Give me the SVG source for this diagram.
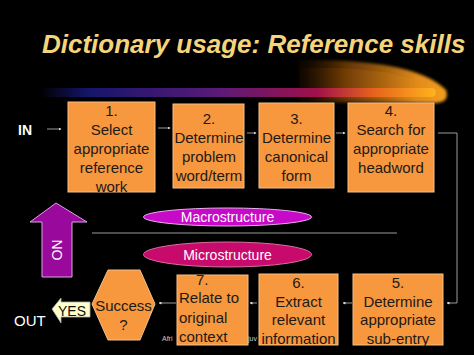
<svg xmlns="http://www.w3.org/2000/svg" width="474" height="355" viewBox="0 0 474 355">
<defs>
<linearGradient id="bar" x1="40" y1="0" x2="435" y2="0" gradientUnits="userSpaceOnUse">
<stop offset="0" stop-color="#000000"/>
<stop offset="0.12" stop-color="#15156a"/>
<stop offset="0.45" stop-color="#5a1a78"/>
<stop offset="0.7" stop-color="#a0104a"/>
<stop offset="0.85" stop-color="#e8661c"/>
<stop offset="1" stop-color="#ffb21e"/>
</linearGradient>
<linearGradient id="glow" x1="290" y1="0" x2="448" y2="0" gradientUnits="userSpaceOnUse">
<stop offset="0" stop-color="#3a1a00" stop-opacity="0"/>
<stop offset="0.35" stop-color="#8a4a08" stop-opacity="0.7"/>
<stop offset="0.8" stop-color="#e08a1a"/>
<stop offset="1" stop-color="#f5a020"/>
</linearGradient>
<filter id="blur" x="-10%" y="-30%" width="120%" height="160%"><feGaussianBlur stdDeviation="1.5"/></filter>
<marker id="ah" viewBox="0 0 6 6" refX="5" refY="3" markerWidth="3" markerHeight="3" orient="auto">
<path d="M0,0 L6,3 L0,6 Z" fill="#dddddd"/>
</marker>
<style>
.box{fill:#f7973e;stroke:#f3c08a;stroke-width:1}
.bt{font-family:"Liberation Sans",Arial,sans-serif;font-size:15px;fill:#1e1a16;text-anchor:middle}
.bl{font-family:"Liberation Sans",Arial,sans-serif;font-size:15px;fill:#1e1a16}
.conn{fill:none;stroke:#9a9a9a;stroke-width:1}
.wt{font-family:"Liberation Sans",Arial,sans-serif;fill:#ffffff}
</style>
</defs>
<rect width="474" height="355" fill="#000000"/>

<g id="title">
<path d="M295,102 L295,60 Q415,58 446,90 Q450,102 436,103 Z" fill="url(#glow)" filter="url(#blur)"/>
<path d="M300,98 L300,68 Q405,66 438,92 Q440,99 432,99 Z" fill="url(#glow)" opacity="0.6"/>
<rect x="40" y="88" width="396" height="9" rx="4.5" fill="url(#bar)"/>
<text x="42" y="53" font-family="Liberation Sans,Arial,sans-serif" font-size="26" font-weight="bold" font-style="italic" fill="#f5d47c">Dictionary usage: Reference skills</text>
</g>

<g id="connectors">
<line class="conn" x1="47" y1="129" x2="61" y2="129" marker-end="url(#ah)"/>
<line class="conn" x1="158" y1="128" x2="170" y2="128" marker-end="url(#ah)"/>
<line class="conn" x1="247" y1="133" x2="256" y2="133" marker-end="url(#ah)"/>
<line class="conn" x1="336" y1="133" x2="345" y2="133" marker-end="url(#ah)"/>
<polyline class="conn" points="438,133 457,133 457,303 447,303" marker-end="url(#ah)"/>
<line class="conn" x1="352" y1="303" x2="343" y2="303" marker-end="url(#ah)"/>
<line class="conn" x1="257" y1="303" x2="250" y2="303" marker-end="url(#ah)"/>
<line class="conn" x1="176" y1="303" x2="159" y2="303" marker-end="url(#ah)"/>
<line class="conn" x1="92" y1="233" x2="397" y2="233"/>
</g>

<g id="in"><text class="wt" x="18" y="135" font-size="14" font-weight="bold">IN</text></g>

<g id="footnote">
<text x="162" y="341" font-family="Liberation Sans,Arial,sans-serif" font-size="7" fill="#cccccc">Afri</text>
<text x="248" y="341" font-family="Liberation Sans,Arial,sans-serif" font-size="7" fill="#cccccc">juv</text>
</g>

<g id="box1">
<rect class="box" x="68" y="102" width="87" height="90"/>
<text class="bt" x="111.5" y="116">1.</text>
<text class="bt" x="111.5" y="135">Select</text>
<text class="bt" x="111.5" y="154">appropriate</text>
<text class="bt" x="111.5" y="173">reference</text>
<text class="bt" x="111.5" y="192">work</text>
</g>

<g id="box2">
<rect class="box" x="173" y="104" width="71" height="84"/>
<text class="bt" x="209" y="124">2.</text>
<text class="bt" x="209" y="143">Determine</text>
<text class="bt" x="209" y="162">problem</text>
<text class="bt" x="209" y="181">word/term</text>
</g>

<g id="box3">
<rect class="box" x="259" y="103" width="75" height="85"/>
<text class="bt" x="296.5" y="124">3.</text>
<text class="bt" x="296.5" y="143">Determine</text>
<text class="bt" x="296.5" y="162">canonical</text>
<text class="bt" x="296.5" y="181">form</text>
</g>

<g id="box4">
<rect class="box" x="348" y="103" width="86" height="89"/>
<text class="bt" x="391" y="116">4.</text>
<text class="bt" x="391" y="135">Search for</text>
<text class="bt" x="391" y="154">appropriate</text>
<text class="bt" x="391" y="173">headword</text>
</g>

<g id="no">
<path d="M56,203 L87,222 L72,222 L72,277 L42,277 L42,222 L30,222 Z" fill="#990a9c" stroke="#d8a6e0" stroke-width="1"/>
<text class="wt" font-size="14" text-anchor="middle" transform="translate(52,250) rotate(90)">NO</text>
</g>

<g id="macro">
<ellipse cx="227.5" cy="217" rx="84" ry="9" fill="#c70ac8" stroke="#e6b0ea" stroke-width="1"/>
<text class="wt" x="227.5" y="222" font-size="14" text-anchor="middle">Macrostructure</text>
</g>

<g id="micro">
<ellipse cx="227.5" cy="254.5" rx="84" ry="12.5" fill="#c80a6c" stroke="#d8709c" stroke-width="1"/>
<text class="wt" x="227.5" y="260" font-size="14" text-anchor="middle">Microstructure</text>
</g>

<g id="box5">
<rect class="box" x="353" y="274" width="90" height="71"/>
<text class="bt" x="398" y="288">5.</text>
<text class="bt" x="398" y="307">Determine</text>
<text class="bt" x="398" y="325">appropriate</text>
<text class="bt" x="398" y="344">sub-entry</text>
</g>

<g id="box6">
<rect class="box" x="259" y="274" width="79" height="71"/>
<text class="bt" x="298.5" y="288">6.</text>
<text class="bt" x="298.5" y="307">Extract</text>
<text class="bt" x="298.5" y="325">relevant</text>
<text class="bt" x="298.5" y="344">information</text>
</g>

<g id="box7">
<rect class="box" x="177" y="275" width="71" height="70"/>
<text class="bl" x="196" y="285">7.</text>
<text class="bl" x="179" y="303">Relate to</text>
<text class="bl" x="179" y="323">original</text>
<text class="bl" x="179" y="342">context</text>
</g>

<g id="success">
<polygon points="92,304 108,270 140,270 155,304 140,340 108,340" fill="#f7973e" stroke="#f3c08a" stroke-width="1"/>
<text class="bt" x="123.5" y="311">Success</text>
<text class="bt" x="123.5" y="330">?</text>
</g>

<g id="yes">
<path d="M52,309 L61,298 L61,302 L90,302 L90,317 L61,317 L61,323 Z" fill="#ffffcc" stroke="#aaaaaa" stroke-width="0.8"/>
<text x="72" y="316" font-family="Liberation Sans,Arial,sans-serif" font-size="14" fill="#111111" text-anchor="middle">YES</text>
</g>

<g id="out"><text class="wt" x="14" y="326" font-size="15">OUT</text></g>
</svg>
